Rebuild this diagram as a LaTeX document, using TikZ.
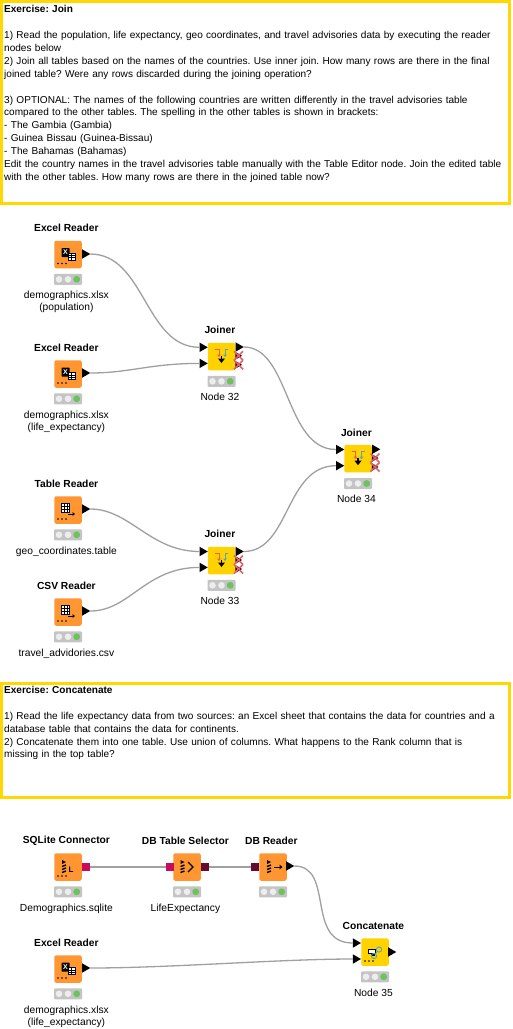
\documentclass[tikz,border=0pt]{standalone}
\usepackage{fontspec}
\setmainfont{Liberation Sans}
\usetikzlibrary{shapes.geometric,calc}
\frenchspacing
\definecolor{srcorange}{HTML}{FF9632}
\definecolor{manyellow}{HTML}{FFD200}
\definecolor{annot}{HTML}{FFD800}
\definecolor{statgray}{HTML}{C4C4C4}
\definecolor{statlight}{HTML}{EDEDED}
\definecolor{statgreen}{HTML}{6CC25B}
\definecolor{dbred}{HTML}{CC0A5C}
\definecolor{dbdark}{HTML}{660A32}
\definecolor{wire}{HTML}{A0A0A0}
\definecolor{xred}{HTML}{E5606A}
\definecolor{iconred}{HTML}{E5604F}
\definecolor{iconblue}{HTML}{4FA8C8}
\tikzset{
 x=1pt,y=-1pt,
 knimebox/.style={draw=none,rounded corners=2pt,minimum width=27.5pt,minimum height=27.5pt,inner sep=0pt},
 statusbar/.style={fill=statgray,draw=none,rounded corners=1pt,minimum width=28pt,minimum height=11pt,inner sep=0pt},
 titletext/.style={font=\bfseries\fontsize{10.25}{12.5}\selectfont,align=center,inner sep=0pt},
 captext/.style={font=\fontsize{10.25}{12.2}\selectfont,align=center,inner sep=0pt,anchor=north},
 annotbox/.style={draw=annot,line width=3pt,fill=white,anchor=north west,inner sep=0pt,outer sep=0pt},
 annottext/.style={font=\fontsize{10.05}{12.9}\selectfont,align=left,anchor=north west,inner sep=0pt,text width=503pt},
 tport/.style={fill=black,draw=none,regular polygon,regular polygon sides=3,shape border rotate=-90,minimum size=11pt,inner sep=0pt,outer sep=0pt},
 dbport/.style={draw=none,minimum width=8pt,minimum height=8pt,inner sep=0pt,outer sep=0pt},
 wirel/.style={draw=wire,line width=1.3pt},
}
% #1 name #2 cx #3 cy #4 fill #5 title #6 caption
\newcommand{\knime}[6]{%
 \node[knimebox,fill=#4] (#1) at (#2,#3) {};
 \node[titletext] (#1t) at (#2-1.6,#3-26.3) {#5};
 \node[statusbar] (#1s) at (#2,#3+24.8) {};
 \fill[statlight] (#2-9,#3+24.8) circle (3.3pt) (#2,#3+24.8) circle (3.3pt);
 \fill[statgreen] (#2+8.7,#3+24.8) circle (3.4pt);
 \node[captext] (#1c) at (#2-1.6,#3+36.5) {#6};
}
\newcommand{\threedots}[2]{\fill[black] (#1-10,#2+9) circle (.9pt) (#1-6,#2+9) circle (.9pt) (#1-2,#2+9) circle (.9pt);}
\newcommand{\inport}[3]{\node[tport] (#1) at (#2,#3) {};}
\newcommand{\xmark}[2]{\node[tport,minimum size=9pt] at (#1-1,#2) {};\draw[xred,line width=1.6pt] (#1-4.5,#2-4.5) -- (#1+4.5,#2+4.5) (#1-4.5,#2+4.5) -- (#1+4.5,#2-4.5);}
\newcommand{\excelicon}[2]{%
 \fill[black,rounded corners=.6pt] (#1-6.5,#2-6.5) rectangle (#1+1.5,#2+2.5);
 \node[text=white,font=\bfseries\fontsize{7}{7}\selectfont,inner sep=0pt] at (#1-2.5,#2-2) {X};
 \draw[black,line width=.5pt,fill=white] (#1+.5,#2-1.5) rectangle (#1+7,#2+5.5);
 \draw[black,line width=.5pt] (#1+.5,#2+.8) -- (#1+7,#2+.8) (#1+.5,#2+3.1) -- (#1+7,#2+3.1) (#1+3.7,#2-1.5) -- (#1+3.7,#2+5.5);}
\newcommand{\tableicon}[2]{%
 \draw[black,line width=.7pt,fill=white] (#1-6,#2-6.5) rectangle (#1+2,#2+2);
 \draw[black,line width=.5pt] (#1-6,#2-3.6) -- (#1+2,#2-3.6) (#1-6,#2-.8) -- (#1+2,#2-.8) (#1-3.3,#2-6.5) -- (#1-3.3,#2+2) (#1-.6,#2-6.5) -- (#1-.6,#2+2);
 \draw[black,line width=1pt] (#1+.5,#2+4) -- (#1+6,#2+4);
 \fill[black] (#1+7.5,#2+4) -- (#1+5,#2+2) -- (#1+5,#2+6) -- cycle;}
\newcommand{\joinicon}[2]{%
 \draw[iconred,line width=.8pt] (#1-6.5,#2-7.5) -- (#1-2.5,#2-7.5) -- (#1-2.5,#2-1.5);
 \fill[iconred] (#1-2.5,#2+.5) -- (#1-4.5,#2-2) -- (#1-.5,#2-2) -- cycle;
 \draw[iconblue,line width=.8pt] (#1+6.5,#2-7.5) -- (#1+3.5,#2-7.5) -- (#1+3.5,#2-1.5);
 \fill[iconblue] (#1+3.5,#2+.5) -- (#1+1.5,#2-2) -- (#1+5.5,#2-2) -- cycle;
 \draw[black,line width=1.1pt] (#1,#2-1) -- (#1,#2+3);
 \fill[black] (#1,#2+6.5) -- (#1-3.5,#2+2) -- (#1+3.5,#2+2) -- cycle;}
\newcommand{\dbstack}[2]{%
 \fill[black] (#1-6,#2-7) -- (#1-2,#2-5) -- (#1-6,#2-3) -- cycle;
 \draw[black,line width=1.4pt] (#1-6,#2-.5) -- (#1-2,#2-2) (#1-6,#2+2.5) -- (#1-2,#2+1) (#1-6,#2+5.5) -- (#1-2,#2+4);}
\begin{document}
\begin{tikzpicture}
\useasboundingbox (0,0) rectangle (512,1029);
\fill[white] (0,0) rectangle (512,1029);
% annotations
\node[annotbox,minimum width=508pt,minimum height=202pt] (a1) at (1.5,1.5) {};
\node[annottext] (a1t) at (4,5.3) {\textbf{Exercise: Join}\\[12.9pt]
1) Read the population, life expectancy, geo coordinates, and travel advisories data by executing the reader\\
nodes below\\
2) Join all tables based on the names of the countries. Use inner join. How many rows are there in the final\\
joined table? Were any rows discarded during the joining operation?\\[12.9pt]
3) OPTIONAL: The names of the following countries are written differently in the travel advisories table\\
compared to the other tables. The spelling in the other tables is shown in brackets:\\
- The Gambia (Gambia)\\
- Guinea Bissau (Guinea-Bissau)\\
- The Bahamas (Bahamas)\\
Edit the country names in the travel advisories table manually with the Table Editor node. Join the edited table\\
with the other tables. How many rows are there in the joined table now?};
\node[annotbox,minimum width=508pt,minimum height=114.5pt] (a2) at (1.5,683) {};
\node[annottext] (a2t) at (4,686) {\textbf{Exercise: Concatenate}\\[12.9pt]
1) Read the life expectancy data from two sources: an Excel sheet that contains the data for countries and a\\
database table that contains the data for continents.\\
2) Concatenate them into one table. Use union of columns. What happens to the Rank column that is\\
missing in the top table?};
% nodes
\knime{er1}{68}{254.5}{srcorange}{Excel Reader}{demographics.xlsx\\(population)}
\knime{er2}{68}{374}{srcorange}{Excel Reader}{demographics.xlsx\\(life\_expectancy)}
\knime{tr}{68}{510}{srcorange}{Table Reader}{geo\_coordinates.table}
\knime{csv}{68}{612}{srcorange}{CSV Reader}{travel\_advidories.csv}
\knime{j32}{221.5}{356.5}{manyellow}{Joiner}{Node 32}
\knime{j33}{221.5}{560.5}{manyellow}{Joiner}{Node 33}
\knime{j34}{358}{458.7}{manyellow}{Joiner}{Node 34}
\knime{sql}{68}{867}{srcorange}{SQLite Connector}{Demographics.sqlite}
\knime{sel}{187}{867}{srcorange}{DB Table Selector}{LifeExpectancy}
\knime{dbr}{273}{867}{srcorange}{DB Reader}{}
\knime{con}{375}{952}{manyellow}{Concatenate}{Node 35}
\knime{er3}{68}{969}{srcorange}{Excel Reader}{demographics.xlsx\\(life\_expectancy)}
% ports
\inport{p1}{84.75}{254}\inport{p2}{84.75}{373}\inport{p3}{84.75}{509}\inport{p4}{84.75}{611}
\inport{j32a}{202.25}{347.3}\inport{j32b}{202.25}{363.4}\inport{j32o}{238.25}{347}
\inport{j33a}{202.25}{551.5}\inport{j33b}{202.25}{567.4}\inport{j33o}{238.25}{551.5}
\inport{j34a}{338.75}{449.5}\inport{j34b}{338.75}{465.7}\inport{j34o}{374.75}{449.3}
\inport{cona}{355.5}{943}\inport{conb}{355.5}{959}\inport{cono}{390.75}{952}
\inport{p5}{84.75}{968}\inport{dbro}{288.75}{866}
\node[dbport,fill=dbred] (sqlo) at (85.5,867) {};
\node[dbport,fill=dbred] (seli) at (169.5,867) {};
\node[dbport,fill=dbdark] (selo) at (205,867) {};
\node[dbport,fill=dbdark] (dbri) at (255,867) {};
% connectors
\draw[wirel] (p1.east) .. controls (145,254) and (145,347.3) .. (j32a.west);
\draw[wirel] (p2.east) .. controls (130,373) and (150,363.4) .. (j32b.west);
\draw[wirel] (p3.east) .. controls (130,509) and (150,551.5) .. (j33a.west);
\draw[wirel] (p4.east) .. controls (130,611) and (145,567.4) .. (j33b.west);
\draw[wirel] (j32o.east) .. controls (290,347) and (285,449.5) .. (j34a.west);
\draw[wirel] (j33o.east) .. controls (290,551.5) and (285,465.7) .. (j34b.west);
\draw[wirel] (sqlo.east) -- (seli.west);
\draw[wirel] (selo.east) -- (dbri.west);
\draw[wirel] (dbro.east) .. controls (335,866) and (305,943) .. (cona.west);
\draw[wirel] (p5.east) .. controls (170,968) and (280,959) .. (conb.west);
% xs on joiners
\xmark{238.5}{355.8}\xmark{238.5}{364.8}
\xmark{238.5}{560}\xmark{238.5}{569}
\xmark{375}{458}\xmark{375}{467}
% icons
\excelicon{68}{254.5}\threedots{68}{254.5}
\excelicon{68}{374}\threedots{68}{374}
\excelicon{68}{969}\threedots{68}{969}
\tableicon{67.5}{510}\threedots{68}{510}
\tableicon{67.5}{612}\threedots{68}{612}
\joinicon{221.5}{356.5}\joinicon{221.5}{560.5}\joinicon{358}{458.7}
\dbstack{68}{867}\threedots{68}{867}
\node[font=\bfseries\fontsize{8}{8}\selectfont,inner sep=0pt] (sqll) at (71,869.5) {L};
\dbstack{186.5}{867}\draw[black,line width=1.1pt] (188,862) -- (193,867) -- (188,872);
\dbstack{273}{867}\draw[black,line width=1pt] (274,867) -- (280.5,867);\fill[black] (282.5,867) -- (279.5,864.5) -- (279.5,869.5) -- cycle;
% concatenate icon
\draw[black,line width=.7pt,fill=white] (368,949) rectangle (375,953);
\fill[black] (371,953) rectangle (375,956);
\draw[iconblue,line width=.9pt] (379,949.5) circle (2.6pt) (374,956) circle (2.6pt);
\draw[iconblue,line width=.9pt] (377,951.5) -- (375.5,954);
\threedots{375}{952}
\end{tikzpicture}
\end{document}
